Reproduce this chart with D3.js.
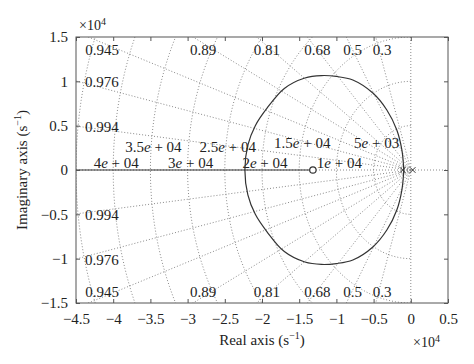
<!DOCTYPE html>
<html>
<head>
<meta charset="utf-8">
<script src="https://cdn.jsdelivr.net/npm/d3@7"></script>
<style>
    body { margin: 0; background: #fff; }
    text { font-family: "Liberation Serif", "DejaVu Serif", serif; fill: #222; }
</style>
</head>
<body>
<script>
// chart values (units of 1e4 s^-1)
const xTicks = [-4.5, -4, -3.5, -3, -2.5, -2, -1.5, -1, -0.5, 0, 0.5];
const yTicks = [-1.5, -1, -0.5, 0, 0.5, 1, 1.5];
const zetaValues = [0.3, 0.5, 0.68, 0.81, 0.89, 0.945, 0.976, 0.994];
const zetaLabels = ["0.3", "0.5", "0.68", "0.81", "0.89", "0.945", "0.976", "0.994"];
const wnValues = [0.5, 1, 1.5, 2, 2.5, 3, 3.5, 4, 4.5];
const wnLabels = ["5", "1", "1.5", "2", "2.5", "3", "3.5", "4", ""];
const wnExp = ["03", "04", "04", "04", "04", "04", "04", "04", ""];

// upper branch of the locus (lower branch is its mirror)
const locusRe = [-0.094, -0.12, -0.188, -0.322, -0.51, -0.779, -1.0, -1.2, -1.424, -1.7, -1.93, -2.09, -2.19, -2.23];
const locusIm = [0, 0.226, 0.451, 0.677, 0.868, 1.015, 1.055, 1.065, 1.038, 0.92, 0.7, 0.5, 0.28, 0];
const realBranch = [-4.5, -1.316];
const zeros = [-1.316];
const poles = [-0.11, 0.025];

function go() {
    const width = 474, height = 364;
    const left = 76, right = 448, top = 37, bottom = 303;

    const x = d3.scaleLinear().domain([-4.5, 0.5]).range([left, right]);
    const y = d3.scaleLinear().domain([-1.5, 1.5]).range([bottom, top]);

    const svg = d3.select("body").append("svg")
        .attr("width", width)
        .attr("height", height);

    svg.append("clipPath").attr("id", "plotclip")
        .append("rect")
        .attr("x", left).attr("y", top)
        .attr("width", right - left).attr("height", bottom - top);

    const grid = svg.append("g")
        .attr("clip-path", "url(#plotclip)")
        .attr("fill", "none")
        .attr("stroke", "#8a8a8a")
        .attr("stroke-width", 1)
        .attr("stroke-dasharray", "1,2");

    // damping rays
    zetaValues.forEach(function(z) {
        const s = Math.sqrt(1 - z * z);
        [1, -1].forEach(function(sign) {
            grid.append("line")
                .attr("x1", x(0)).attr("y1", y(0))
                .attr("x2", x(-10 * z)).attr("y2", y(sign * 10 * s));
        });
    });

    // natural frequency circles
    const arc = d3.line()
        .x(function(d) { return d.x; })
        .y(function(d) { return d.y; });
    wnValues.forEach(function(wn) {
        const pts = d3.range(0, 181, 2).map(function(a) {
            const t = (90 + a) * Math.PI / 180;
            return {x: x(wn * Math.cos(t)), y: y(wn * Math.sin(t))};
        });
        grid.append("path").attr("d", arc(pts));
    });

    grid.append("line")
        .attr("x1", x(0)).attr("x2", x(0))
        .attr("y1", top).attr("y2", bottom);
    grid.append("line")
        .attr("x1", left).attr("x2", right)
        .attr("y1", y(0)).attr("y2", y(0));

    // damping labels
    zetaValues.forEach(function(z, i) {
        const s = Math.sqrt(1 - z * z);
        const xt = -1.5 * z / s;
        [1, -1].forEach(function(sign) {
            let tx, ty;
            if (xt >= -4.5) {
                tx = x(xt) - 3;
                ty = sign > 0 ? top + 18 : bottom - 6;
            } else {
                tx = left + 9;
                ty = y(sign * 4.5 * s / z) + 6;
            }
            svg.append("text")
                .attr("x", tx).attr("y", ty)
                .attr("font-size", 15)
                .text(zetaLabels[i]);
        });
    });

    // frequency labels
    wnValues.forEach(function(wn, i) {
        if (!wnLabels[i]) return;
        const upper = i % 2 === 0;
        const t = svg.append("text")
            .attr("x", x(-wn) + 3)
            .attr("y", upper ? y(0) - 18 + (i < 3 ? -4 : 0) : y(0) - 2)
            .attr("text-anchor", "middle")
            .attr("font-size", 15);
        t.append("tspan").text(wnLabels[i]);
        t.append("tspan").attr("font-style", "italic").text("e");
        t.append("tspan").text(" + " + wnExp[i]);
    });

    // locus
    const locus = d3.line()
        .x(function(d) { return x(d[0]); })
        .y(function(d) { return y(d[1]); })
        .curve(d3.curveCatmullRom);

    const branch = locusRe.map(function(r, i) { return [r, locusIm[i]]; })
        .concat(locusRe.slice(0, -1).reverse().map(function(r, i, a) {
            return [r, -locusIm[a.length - 1 - i]];
        }));

    const plot = svg.append("g")
        .attr("clip-path", "url(#plotclip)")
        .attr("fill", "none")
        .attr("stroke", "#333")
        .attr("stroke-width", 1.2);

    plot.append("path").attr("d", locus(branch));
    plot.append("line")
        .attr("x1", x(realBranch[0])).attr("x2", x(realBranch[1]))
        .attr("y1", y(0)).attr("y2", y(0));
    plot.append("line")
        .attr("x1", x(locusRe[0])).attr("x2", x(poles[0]))
        .attr("y1", y(0)).attr("y2", y(0));

    zeros.forEach(function(zr) {
        plot.append("circle")
            .attr("cx", x(zr)).attr("cy", y(0)).attr("r", 3.2)
            .attr("fill", "#fff");
    });
    poles.forEach(function(p) {
        const cx = x(p), cy = y(0), h = 2.8;
        plot.append("path")
            .attr("stroke-width", 1)
            .attr("d", "M" + (cx - h) + "," + (cy - h) + "L" + (cx + h) + "," + (cy + h) +
                       "M" + (cx - h) + "," + (cy + h) + "L" + (cx + h) + "," + (cy - h));
    });

    // frame and ticks
    const frame = svg.append("g").attr("stroke", "#555").attr("stroke-width", 1).attr("fill", "none");
    frame.append("rect")
        .attr("x", left).attr("y", top)
        .attr("width", right - left).attr("height", bottom - top);

    const fmt = function(v) { return d3.format("")(v).replace("-", "\u2212"); };

    const xAxis = svg.append("g")
        .attr("transform", "translate(0," + bottom + ")")
        .call(d3.axisBottom(x).tickValues(xTicks).tickSizeInner(-4).tickSizeOuter(0).tickPadding(10).tickFormat(fmt));
    const xTop = svg.append("g")
        .attr("transform", "translate(0," + top + ")")
        .call(d3.axisTop(x).tickValues(xTicks).tickSizeInner(-4).tickSizeOuter(0).tickFormat(""));
    const yAxis = svg.append("g")
        .attr("transform", "translate(" + left + ",0)")
        .call(d3.axisLeft(y).tickValues(yTicks).tickSizeInner(-4).tickSizeOuter(0).tickPadding(8).tickFormat(fmt));
    const yRight = svg.append("g")
        .attr("transform", "translate(" + right + ",0)")
        .call(d3.axisRight(y).tickValues(yTicks).tickSizeInner(-4).tickSizeOuter(0).tickFormat(""));

    [xAxis, xTop, yAxis, yRight].forEach(function(a) {
        a.select(".domain").remove();
        a.selectAll("line").attr("stroke", "#555");
        a.selectAll("text")
            .attr("font-family", "Liberation Serif, serif")
            .attr("font-size", 15)
            .attr("fill", "#222");
    });

    // exponent markers
    const e1 = svg.append("text").attr("x", 79).attr("y", 30).attr("font-size", 14);
    e1.append("tspan").text("\u00d710");
    e1.append("tspan").attr("dy", -5).attr("font-size", 10).text("4");
    const e2 = svg.append("text").attr("x", 413).attr("y", 347).attr("font-size", 14);
    e2.append("tspan").text("\u00d710");
    e2.append("tspan").attr("dy", -5).attr("font-size", 10).text("4");

    // axis titles
    const xt = svg.append("text")
        .attr("x", (left + right) / 2).attr("y", 345)
        .attr("text-anchor", "middle").attr("font-size", 15);
    xt.append("tspan").text("Real axis (s");
    xt.append("tspan").attr("dy", -6).attr("font-size", 10).text("\u22121");
    xt.append("tspan").attr("dy", 6).text(")");

    const yt = svg.append("text")
        .attr("transform", "translate(27," + (top + bottom) / 2 + ") rotate(-90)")
        .attr("text-anchor", "middle").attr("font-size", 15);
    yt.append("tspan").text("Imaginary axis (s");
    yt.append("tspan").attr("dy", -6).attr("font-size", 10).text("\u22121");
    yt.append("tspan").attr("dy", 6).text(")");
}

window.onload = function() {
    go();
};
</script>
</body>
</html>
